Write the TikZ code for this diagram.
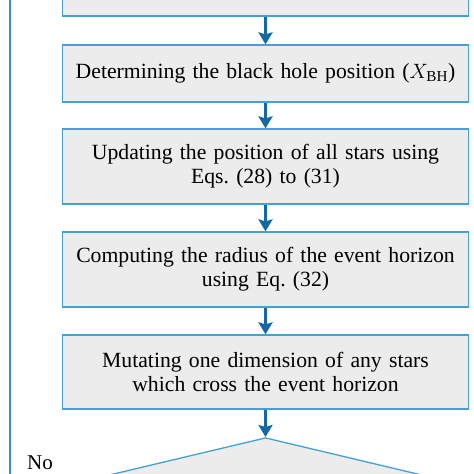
\documentclass[tikz,border=0pt]{standalone}
\usepackage{fontspec}
\setmainfont{Liberation Serif}
\usetikzlibrary{arrows.meta,shapes.geometric}
\definecolor{boxline}{RGB}{70,160,210}
\definecolor{boxfill}{RGB}{236,236,236}
\definecolor{arrowblue}{RGB}{20,105,165}
\definecolor{loopblue}{RGB}{60,140,200}
\tikzset{
  procbox/.style={draw=boxline, fill=boxfill, line width=1.3pt, minimum width=406pt, text width=404pt, align=center, inner sep=0pt, font=\fontsize{21.7}{24}\selectfont\frenchspacing},
  flowarrow/.style={draw=arrowblue, line width=2.6pt, -{Stealth[length=12pt,width=14pt,inset=2pt]}},
  loopline/.style={draw=loopblue, line width=1.4pt},
}
\begin{document}
\begin{tikzpicture}[x=1pt,y=-1pt]
\useasboundingbox (0,0) rectangle (474,474);
\node[procbox, minimum height=72pt] (b1) at (265.5,-20) {};
\node[procbox, minimum height=57pt] (b2) at (265.5,73.5) {Determining the black hole position ($X_{\mathrm{BH}}$)};
\node[procbox, minimum height=75pt] (b3) at (265.5,166.5) {Updating the position of all stars using\\ Eqs. (28) to (31)};
\node[procbox, minimum height=75pt] (b4) at (265.5,269.5) {Computing the radius of the event horizon\\ using Eq. (32)};
\node[procbox, minimum height=74pt] (b5) at (265.5,372) {Mutating one dimension of any stars\\ which cross the event horizon};
\node[diamond, draw=boxline, fill=boxfill, line width=1.3pt, minimum width=630pt, minimum height=150pt, inner sep=0pt, anchor=north] (d) at (265.5,437) {};
\draw[flowarrow] (b1.south) -- (b2.north);
\draw[flowarrow] (b2.south) -- (b3.north);
\draw[flowarrow] (b3.south) -- (b4.north);
\draw[flowarrow] (b4.south) -- (b5.north);
\draw[flowarrow] (b5.south) -- (d.north);
\coordinate (lt) at (10,-5);
\coordinate (lb) at (10,480);
\draw[loopline] (lt) -- (lb);
\node[font=\fontsize{21}{23}\selectfont, anchor=base, inner sep=0pt] (no) at (40,469) {No};
\end{tikzpicture}
\end{document}
